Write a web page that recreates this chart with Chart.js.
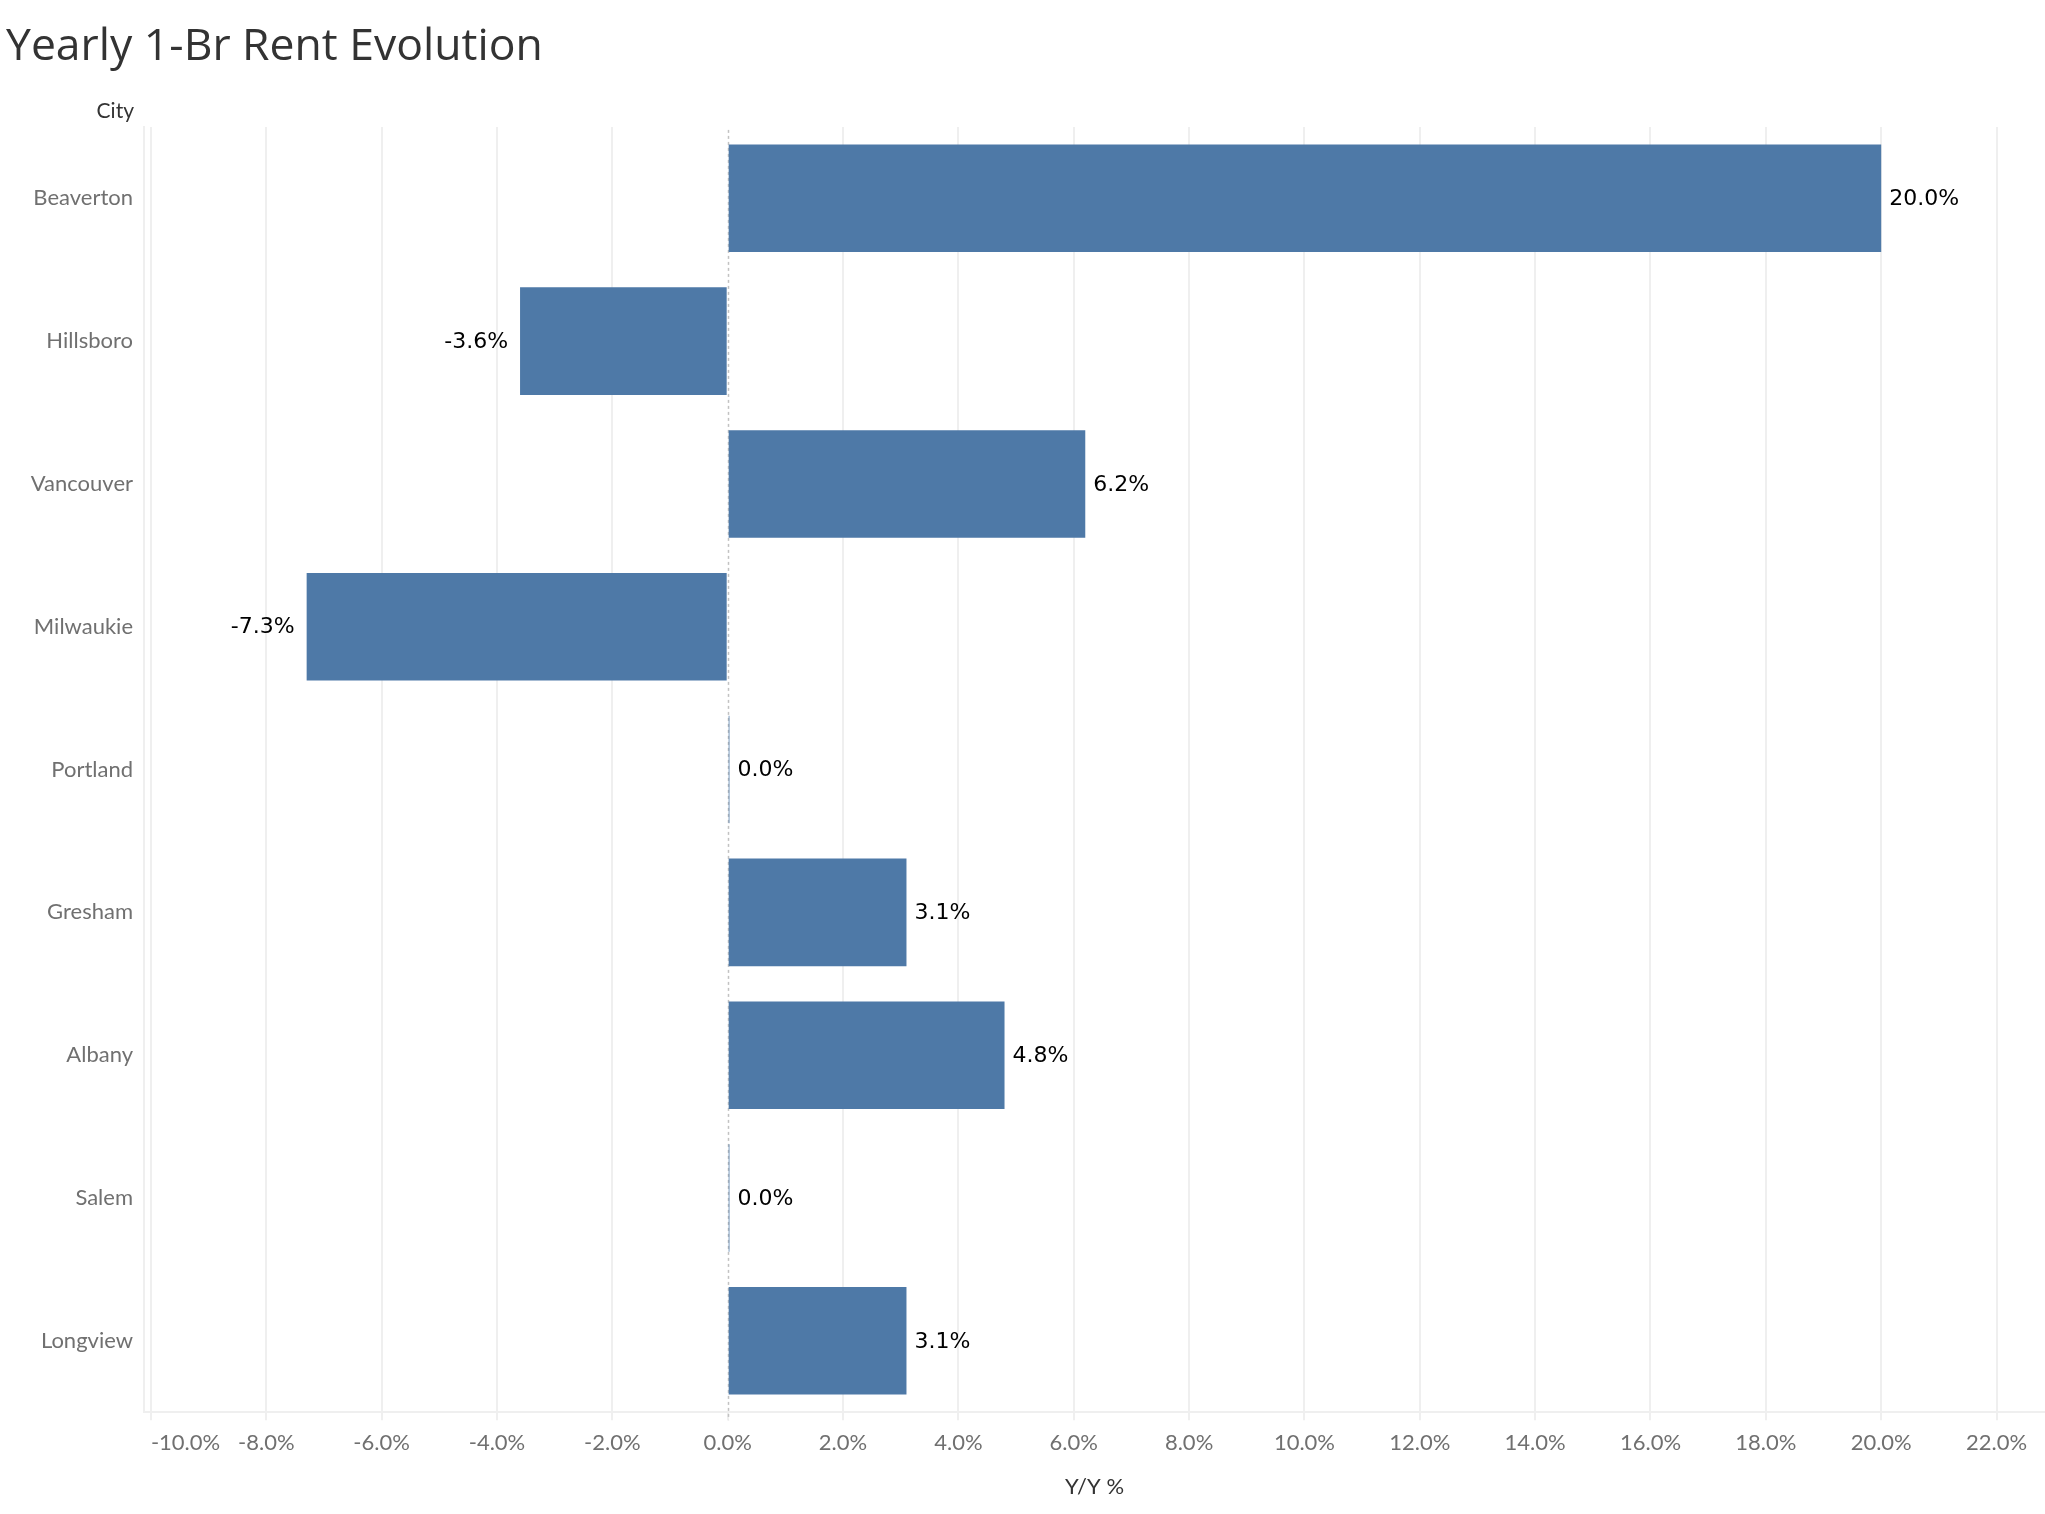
<!DOCTYPE html>
<html>
<head>
<meta charset="utf-8">
<title>Yearly 1-Br Rent Evolution</title>
<script src="https://cdn.jsdelivr.net/npm/chart.js@4.4.1/dist/chart.umd.min.js"></script>
<style>
  html, body { margin: 0; padding: 0; background: #fff; }
  .chart-wrap { position: relative; width: 2045px; height: 1514px; }
</style>
</head>
<body>
<div class="chart-wrap"><canvas id="rentChart"></canvas></div>
<script>
// Data
const cities = ['Beaverton', 'Hillsboro', 'Vancouver', 'Milwaukie', 'Portland', 'Gresham', 'Albany', 'Salem', 'Longview'];
const yoyChange = [20.0, -3.6, 6.2, -7.3, 0.03, 3.1, 4.8, 0.03, 3.1];
const axisMin = -10.12;
const axisMax = 22.84;
const tickStep = 2;

const barColor = '#4e79a7';
const gridColor = '#efefef';

function isMainTick(v) {
  return Math.abs(v / tickStep - Math.round(v / tickStep)) < 1e-6;
}

// Dashed line at 0 and the "City" header above the row labels
const extrasPlugin = {
  id: 'extras',
  beforeDatasetsDraw(chart) {
    const ctx = chart.ctx;
    const area = chart.chartArea;
    const x = Math.round(chart.scales.x.getPixelForValue(0)) + 0.5;
    ctx.save();
    ctx.strokeStyle = '#c2c2c2';
    ctx.lineWidth = 1.5;
    ctx.setLineDash([3, 3]);
    ctx.beginPath();
    ctx.moveTo(x, area.top + 3);
    ctx.lineTo(x, area.bottom + 8);
    ctx.stroke();
    ctx.restore();
  },
  afterDraw(chart) {
    const ctx = chart.ctx;
    const area = chart.chartArea;
    ctx.save();
    ctx.font = '21px Lato';
    ctx.fillStyle = '#333';
    ctx.textAlign = 'right';
    ctx.textBaseline = 'middle';
    ctx.fillText('City', area.left - 10, area.top - 16);
    ctx.restore();
  }
};

// Value labels at the end of each bar
const valueLabelPlugin = {
  id: 'valueLabels',
  afterDatasetsDraw(chart) {
    const ctx = chart.ctx;
    const meta = chart.getDatasetMeta(0);
    ctx.save();
    ctx.font = '22px "DejaVu Sans"';
    ctx.fillStyle = '#000';
    ctx.textBaseline = 'middle';
    meta.data.forEach((bar, i) => {
      const v = yoyChange[i];
      const text = v.toFixed(1) + '%';
      if (v >= 0) {
        ctx.textAlign = 'left';
        ctx.fillText(text, bar.x + 8, bar.y + 1);
      } else {
        ctx.textAlign = 'right';
        ctx.fillText(text, bar.x - 12, bar.y + 1);
      }
    });
    ctx.restore();
  }
};

const ctx = document.getElementById('rentChart').getContext('2d');
new Chart(ctx, {
  type: 'bar',
  data: {
    labels: cities,
    datasets: [
      {
        label: 'Y/Y %',
        data: yoyChange,
        backgroundColor: barColor,
        borderWidth: 0,
        barPercentage: 0.753,
        categoryPercentage: 1.0
      }
    ]
  },
  options: {
    indexAxis: 'y',
    responsive: true,
    maintainAspectRatio: false,
    animation: false,
    layout: {
      padding: { left: 6, right: 0, top: 0, bottom: 14 }
    },
    plugins: {
      legend: { display: false },
      tooltip: { enabled: false },
      title: {
        display: true,
        text: 'Yearly 1-Br Rent Evolution',
        align: 'start',
        color: '#333',
        font: { family: 'Open Sans', size: 44.5, weight: 'normal' },
        padding: { top: 21, bottom: 52.5 }
      }
    },
    scales: {
      x: {
        type: 'linear',
        min: axisMin,
        max: axisMax,
        afterBuildTicks: scale => {
          // extra blank tick at the right bound so 22% stays centred
          scale.ticks.push({ value: axisMax });
        },
        afterFit: scale => {
          scale.paddingLeft = 0;
          scale.paddingRight = 0;
        },
        ticks: {
          stepSize: tickStep,
          includeBounds: false,
          autoSkip: false,
          maxRotation: 0,
          align: 'inner',
          padding: 10,
          color: '#707070',
          font: { family: 'Lato', size: 22 },
          callback: v => isMainTick(v) ? v.toFixed(1) + '%' : ''
        },
        grid: {
          color: c => (c.tick && isMainTick(c.tick.value) && c.tick.value !== 0) ? gridColor : 'rgba(0,0,0,0)',
          tickColor: c => (c.tick && isMainTick(c.tick.value)) ? gridColor : 'rgba(0,0,0,0)',
          lineWidth: 2,
          tickLength: 8
        },
        border: { display: true, color: gridColor, width: 2 },
        title: {
          display: true,
          text: 'Y/Y %',
          color: '#333',
          font: { family: 'Lato', size: 22 },
          padding: { top: 7, bottom: 0 }
        }
      },
      y: {
        afterFit: scale => { scale.width = 138; },
        ticks: {
          padding: 11,
          color: '#707070',
          font: { family: 'Lato', size: 22 }
        },
        grid: { display: false, drawTicks: false },
        border: { display: true, color: gridColor, width: 2 }
      }
    }
  },
  plugins: [extrasPlugin, valueLabelPlugin]
});
</script>
</body>
</html>
